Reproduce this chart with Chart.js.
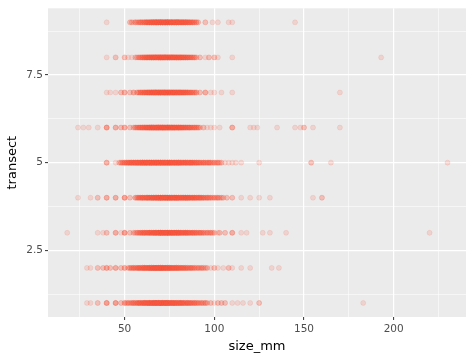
<!DOCTYPE html>
<html>
<head>
<meta charset="utf-8">
<script src="https://cdn.jsdelivr.net/npm/chart.js@4/dist/chart.umd.min.js"></script>
<style>
html,body{margin:0;padding:0;background:#fff;}
canvas{display:block;}
</style>
</head>
<body>
<canvas id="c" width="474" height="362"></canvas>
<script>
// ---- data (size_mm values and how many observations share each value) ----
const transects = [1, 2, 3, 4, 5, 6, 7, 8, 9];

const t1Sizes = [29,31,35,40,45,48,50,
  51,52,53,54,55,56,57,58,59,60,61,62,63,64,65,66,67,68,69,70,71,72,73,74,75,76,77,78,79,80,81,82,83,84,85,86,87,88,89,90,91,92,93,94,95,96,
  98,100,102,104,106,110,113,116,120,125,183];
const t1Counts = [1,1,2,4,4,2,3,
  2,3,2,3,4,3,4,5,4,5,6,5,6,7,6,7,8,7,8,7,8,7,8,7,7,6,7,6,6,5,6,5,5,4,5,4,4,3,4,3,3,2,3,2,3,2,
  2,1,2,2,2,1,1,1,1,2,1];

const t2Sizes = [29,31,35,38,40,42,45,48,50,
  52,53,54,55,56,57,58,59,60,61,62,63,64,65,66,67,68,69,70,71,72,73,74,75,76,77,78,79,80,81,82,83,84,85,86,87,88,89,90,91,92,93,94,95,96,
  98,100,102,105,108,110,115,120,132,136];
const t2Counts = [1,1,2,2,3,2,3,2,3,
  2,3,3,4,3,4,5,4,5,6,5,6,7,6,7,8,7,8,7,8,7,7,6,7,6,6,5,6,5,5,4,5,4,4,3,4,3,3,2,3,2,3,2,2,2,
  1,2,1,1,2,1,1,1,1,1];

const t3Sizes = [18,35,38,40,45,48,50,53,
  55,56,57,58,59,60,61,62,63,64,65,66,67,68,69,70,71,72,73,74,75,76,77,78,79,80,81,82,83,84,85,86,87,88,89,90,91,92,93,94,95,96,97,98,99,100,
  102,103,106,110,115,118,127,131,140,220];
const t3Counts = [1,1,1,2,3,1,4,2,
  2,2,3,3,4,4,5,4,5,6,5,6,7,6,7,8,7,8,7,8,7,8,7,7,6,7,6,6,5,6,5,5,4,5,4,4,3,4,3,3,2,3,2,3,2,2,
  1,2,2,3,1,1,1,1,1,1];

const t4Sizes = [24,31,35,40,45,50,53,
  56,57,58,59,60,61,62,63,64,65,66,67,68,69,70,71,72,73,74,75,76,77,78,79,80,81,82,83,84,85,86,87,88,89,90,91,92,93,94,95,96,97,98,99,100,101,102,103,104,105,
  107,110,115,120,125,131,155,160];
const t4Counts = [1,1,2,3,3,4,2,
  3,3,4,4,5,4,5,6,5,6,7,6,7,8,7,8,7,8,7,8,8,7,8,7,7,6,7,6,7,6,6,5,6,5,5,4,5,4,4,3,4,3,3,2,3,2,3,2,2,2,
  2,2,1,1,1,1,1,2];

const t5Sizes = [40,45,
  47,48,49,50,51,52,53,54,55,56,57,58,59,60,61,62,63,64,65,66,67,68,69,70,71,72,73,74,75,76,77,78,79,80,81,82,83,84,85,86,87,88,89,90,91,92,93,94,95,96,97,98,99,100,101,102,103,104,
  106,108,110,112,115,125,154,165,230];
const t5Counts = [3,1,
  2,3,3,4,4,5,5,6,5,6,7,6,7,8,7,8,7,8,8,7,8,8,7,8,7,8,7,7,8,7,6,7,6,7,6,6,5,6,5,5,6,5,4,5,4,4,3,4,3,3,4,3,2,3,2,3,2,2,
  1,1,1,1,1,1,2,1,1];

const t6Sizes = [24,27,30,35,40,45,48,50,53,
  55,56,57,58,59,60,61,62,63,64,65,66,67,68,69,70,71,72,73,74,75,76,77,78,79,80,81,82,83,84,85,86,87,88,89,90,91,92,
  94,96,98,100,103,110,120,122,124,135,145,148,150,155,170];
const t6Counts = [1,1,1,1,4,3,2,3,2,
  2,3,3,4,4,5,5,6,6,7,7,8,7,8,8,7,8,8,7,8,7,7,8,7,6,7,6,6,5,5,4,5,4,3,4,3,3,2,
  2,1,1,1,1,3,1,1,1,1,1,1,2,1,1];

const t7Sizes = [40,42,45,48,50,53,55,
  57,58,59,60,61,62,63,64,65,66,67,68,69,70,71,72,73,74,75,76,77,78,79,80,81,82,83,84,85,86,87,88,89,90,
  92,95,98,100,104,110,170];
const t7Counts = [1,1,1,2,3,2,3,
  3,3,4,4,5,5,6,6,7,7,8,7,8,8,7,8,8,7,8,7,8,7,7,6,7,6,6,5,5,4,4,3,3,3,
  2,3,1,1,1,1,1];

const t8Sizes = [40,45,50,52,54,
  56,57,58,59,60,61,62,63,64,65,66,67,68,69,70,71,72,73,74,75,76,77,78,79,80,81,82,83,84,85,86,87,88,89,
  90,92,95,97,100,102,110,193];
const t8Counts = [1,2,2,1,1,
  2,2,3,3,4,5,5,6,6,7,7,8,7,8,8,7,8,8,7,8,7,8,7,7,6,7,6,6,5,5,4,4,3,3,
  2,2,1,2,2,1,1,1];

const t9Sizes = [40,
  53,54,55,56,57,58,59,60,61,62,63,64,65,66,67,68,69,70,71,72,73,74,75,76,77,78,79,80,81,82,83,84,85,86,87,88,89,90,91,
  95,99,102,108,110,145];
const t9Counts = [1,
  2,2,1,3,2,3,4,3,4,5,5,6,6,7,7,8,7,8,8,7,8,8,7,8,7,7,8,7,6,7,6,6,5,5,4,4,3,3,2,
  2,1,1,1,1,1];

const xTickValues = [25, 50, 75, 100, 125, 150, 175, 200, 225];
const xTickLabels = ['', '50', '', '100', '', '150', '', '200', ''];
const yTickValues = [1.25, 2.5, 3.75, 5, 6.25, 7.5, 8.75];
const yTickLabels = ['', '2.5', '', '5', '', '7.5', ''];

// ---- build chart ----
const sizeLists = [t1Sizes, t2Sizes, t3Sizes, t4Sizes, t5Sizes, t6Sizes, t7Sizes, t8Sizes, t9Sizes];
const countLists = [t1Counts, t2Counts, t3Counts, t4Counts, t5Counts, t6Counts, t7Counts, t8Counts, t9Counts];

const pointColor = 'rgba(250,90,60,0.16)';
const datasets = transects.map((t, i) => {
  const pts = [];
  sizeLists[i].forEach((s, j) => {
    for (let k = 0; k < countLists[i][j]; k++) pts.push({x: s, y: t});
  });
  return {
    data: pts,
    pointRadius: 2.5,
    pointHoverRadius: 2.5,
    borderWidth: 0.8,
    backgroundColor: pointColor,
    borderColor: pointColor,
    showLine: false
  };
});

const panelBg = {
  id: 'panelBg',
  beforeDraw(chart) {
    const {ctx, chartArea: a} = chart;
    ctx.save();
    ctx.fillStyle = '#EBEBEB';
    ctx.fillRect(a.left, a.top, a.right - a.left, a.bottom - a.top);
    ctx.restore();
  }
};

const font = 'DejaVu Sans, Verdana, sans-serif';

function gridOpts(majorLabels) {
  return {
    display: true,
    drawOnChartArea: true,
    drawTicks: true,
    tickLength: 3,
    color: '#FFFFFF',
    lineWidth: (c) => (majorLabels[c.index] ? 1.2 : 0.55),
    tickColor: (c) => (majorLabels[c.index] ? '#333333' : 'rgba(0,0,0,0)'),
    tickWidth: 1
  };
}

new Chart(document.getElementById('c'), {
  type: 'scatter',
  data: { datasets },
  plugins: [panelBg],
  options: {
    responsive: false,
    animation: false,
    events: [],
    layout: { padding: { top: 7, right: 8, left: 0, bottom: 0 } },
    plugins: { legend: { display: false }, tooltip: { enabled: false } },
    scales: {
      x: {
        type: 'linear',
        min: 7.3,
        max: 240.3,
        border: { display: false },
        grid: gridOpts(xTickLabels),
        afterBuildTicks: (s) => { s.ticks = xTickValues.map(v => ({value: v})); },
        afterFit: (s) => { s.height = 45; },
        ticks: {
          autoSkip: false,
          maxRotation: 0,
          padding: 3,
          color: '#4D4D4D',
          font: { family: font, size: 10.5 },
          callback: (v, i) => xTickLabels[i]
        },
        title: {
          display: true,
          text: 'size_mm',
          color: '#000000',
          font: { family: font, size: 13 },
          padding: { top: 0, bottom: 7.5 }
        }
      },
      y: {
        type: 'linear',
        min: 0.6,
        max: 9.4,
        border: { display: false },
        grid: gridOpts(yTickLabels),
        afterBuildTicks: (s) => { s.ticks = yTickValues.map(v => ({value: v})); },
        afterFit: (s) => { s.width = 48; },
        ticks: {
          autoSkip: false,
          padding: 2,
          color: '#4D4D4D',
          font: { family: font, size: 10.5 },
          callback: (v, i) => yTickLabels[i]
        },
        title: {
          display: true,
          text: 'transect',
          color: '#000000',
          font: { family: font, size: 13 },
          padding: { top: 5, bottom: 0 }
        }
      }
    }
  }
});
</script>
</body>
</html>
